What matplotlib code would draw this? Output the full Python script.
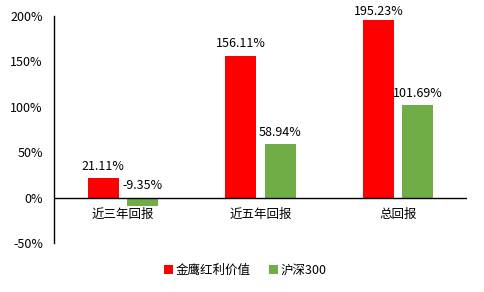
import numpy as np
import matplotlib.pyplot as plt
from matplotlib.ticker import FuncFormatter

plt.rcParams['font.family'] = ['Noto Sans CJK SC', 'DejaVu Sans']

# Data
categories = ['近三年回报', '近五年回报', '总回报']
fund = [21.11, 156.11, 195.23]
index = [-9.35, 58.94, 101.69]
series_names = ['金鹰红利价值', '沪深300']

fig = plt.figure(figsize=(4.84, 2.92), dpi=100)
ax = fig.add_axes([54 / 484, 1 - 243 / 292, 413 / 484, 227 / 292])

x = np.arange(len(categories))
w = 0.225
off = 0.142
b1 = ax.bar(x - off, fund, w, color='#FF0000', label=series_names[0])
b2 = ax.bar(x + off, index, w, color='#70AD47', label=series_names[1])

for bars, vals in [(b1, fund), (b2, index)]:
    for rect, v in zip(bars, vals):
        y = min(max(v, 0) + 6, 198)
        ax.text(rect.get_x() + rect.get_width() / 2, y, f'{v:.2f}%',
                ha='center', va='bottom', fontsize=9, clip_on=False)

ax.set_xlim(-0.5, 2.5)
ax.set_ylim(-50, 200)
ax.set_yticks(np.arange(-50, 201, 50))
ax.yaxis.set_major_formatter(FuncFormatter(lambda v, p: f'{v:.0f}%'))
ax.tick_params(axis='y', length=0, labelsize=9, pad=8)
ax.set_xticks([])

for s in ['top', 'right', 'bottom']:
    ax.spines[s].set_visible(False)
ax.spines['left'].set_linewidth(1)
ax.axhline(0, color='black', linewidth=1)

for xi, c in zip(x, categories):
    ax.text(xi, -11, c, ha='center', va='top', fontsize=9)

fig.legend(handles=[b1, b2], labels=series_names, loc='center',
           bbox_to_anchor=(245 / 484, 1 - 270 / 292),
           ncol=2, frameon=False, fontsize=9, handlelength=0.7, handleheight=0.7,
           handletextpad=0.2, columnspacing=1.5)

fig.savefig('out.png', dpi=100)
